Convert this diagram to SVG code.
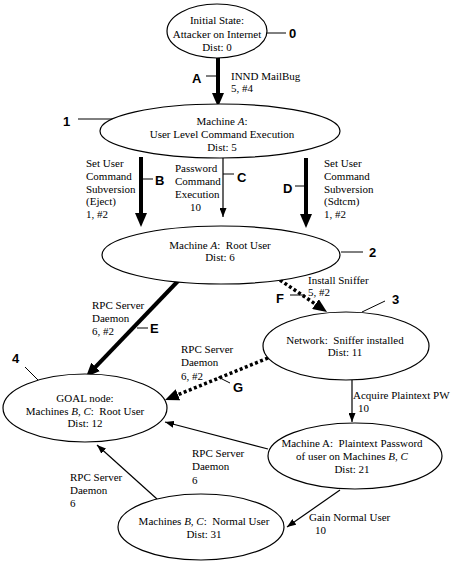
<svg xmlns="http://www.w3.org/2000/svg" width="474" height="567" viewBox="0 0 474 567">
<style>
.n{fill:#fff;stroke:#000;stroke-width:1.2}
.t{font-family:"Liberation Serif","Times New Roman",serif;font-size:11px;fill:#000}
.c{text-anchor:middle}
.b{font-family:"Liberation Sans",Arial,sans-serif;font-size:13px;font-weight:bold;fill:#000}
.thick{stroke:#000;stroke-width:4;fill:none}
.thin{stroke:#000;stroke-width:1.2;fill:none}
.dot{stroke:#000;stroke-width:3.5;fill:none;stroke-dasharray:3 2.5}
.tick{stroke:#000;stroke-width:1;fill:none}
</style>
<defs>
<marker id="big" markerUnits="userSpaceOnUse" markerWidth="14" markerHeight="12" refX="6" refY="6" orient="auto">
<path d="M0,0 L14,6 L0,12 z" fill="#000"/>
</marker>
<marker id="small" markerUnits="userSpaceOnUse" markerWidth="9" markerHeight="7" refX="9" refY="3.5" orient="auto">
<path d="M0,0 L9,3.5 L0,7 z" fill="#000"/>
</marker>
</defs>
<rect width="474" height="567" fill="#fff"/>

<g id="connectors">
<line class="thick" x1="218" y1="58" x2="218" y2="99" marker-end="url(#big)"/>
<line class="thick" x1="141" y1="157" x2="141" y2="219" marker-end="url(#big)"/>
<line class="thin" x1="223" y1="158" x2="223" y2="217" marker-end="url(#small)"/>
<line class="thick" x1="306" y1="158" x2="306" y2="220" marker-end="url(#big)"/>
<line class="thick" x1="179" y1="280" x2="91.5" y2="371.2" marker-end="url(#big)"/>
<line class="dot" x1="280" y1="280" x2="320.4" y2="307.5" marker-end="url(#big)"/>
<line class="dot" x1="268" y1="358" x2="172.4" y2="397" marker-end="url(#big)"/>
<line class="thin" x1="352" y1="380" x2="352" y2="422" marker-end="url(#small)"/>
<line class="thin" x1="268" y1="449" x2="165" y2="422" marker-end="url(#small)"/>
<line class="thin" x1="340" y1="490" x2="287" y2="527" marker-end="url(#small)"/>
<line class="thin" x1="157" y1="499" x2="97" y2="445" marker-end="url(#small)"/>
<!-- label ticks -->
<line class="tick" x1="267" y1="33" x2="286" y2="33"/>
<line class="tick" x1="206" y1="76" x2="216" y2="76"/>
<line class="tick" x1="78" y1="119" x2="117" y2="119"/>
<line class="tick" x1="143" y1="179" x2="153" y2="179"/>
<line class="tick" x1="223" y1="174" x2="234" y2="174"/>
<line class="tick" x1="295" y1="186" x2="305" y2="186"/>
<line class="tick" x1="341" y1="252" x2="363" y2="252"/>
<line class="tick" x1="137" y1="328" x2="148" y2="328"/>
<line class="tick" x1="290" y1="295" x2="305" y2="295"/>
<line class="tick" x1="362" y1="312" x2="385" y2="301"/>
<line class="tick" x1="25" y1="367" x2="40" y2="382"/>
<line class="tick" x1="218" y1="377" x2="230" y2="383"/>
</g>

<g id="edge-labels">
<text class="b" x="192" y="83">A</text>
<text class="t" x="231" y="80">INND MailBug</text>
<text class="t" x="231" y="92">5, #4</text>
<text class="t" x="86" y="167">Set User</text>
<text class="t" x="86" y="180">Command</text>
<text class="t" x="86" y="193">Subversion</text>
<text class="t" x="86" y="205">(Eject)</text>
<text class="t" x="86" y="218">1, #2</text>
<text class="b" x="155" y="185">B</text>
<text class="t" x="175" y="172">Password</text>
<text class="t" x="175" y="185">Command</text>
<text class="t" x="175" y="198">Execution</text>
<text class="t" x="190" y="211">10</text>
<text class="b" x="237" y="182">C</text>
<text class="b" x="283" y="193">D</text>
<text class="t" x="324" y="167">Set User</text>
<text class="t" x="324" y="180">Command</text>
<text class="t" x="324" y="193">Subversion</text>
<text class="t" x="324" y="205">(Sdtcm)</text>
<text class="t" x="324" y="218">1, #2</text>
<text class="t" x="92" y="309">RPC Server</text>
<text class="t" x="92" y="322">Daemon</text>
<text class="t" x="92" y="335">6, #2</text>
<text class="b" x="150" y="333">E</text>
<text class="t" x="308" y="284">Install Sniffer</text>
<text class="t" x="308" y="296">5, #2</text>
<text class="b" x="276" y="303">F</text>
<text class="t" x="181" y="353">RPC Server</text>
<text class="t" x="181" y="366">Daemon</text>
<text class="t" x="181" y="380">6, #2</text>
<text class="b" x="233" y="392">G</text>
<text class="t" x="353" y="399">Acquire Plaintext PW</text>
<text class="t" x="358" y="412">10</text>
<text class="t" x="192" y="457">RPC Server</text>
<text class="t" x="192" y="470">Daemon</text>
<text class="t" x="192" y="484">6</text>
<text class="t" x="309" y="521">Gain Normal User</text>
<text class="t" x="315" y="534">10</text>
<text class="t" x="70" y="481">RPC Server</text>
<text class="t" x="70" y="494">Daemon</text>
<text class="t" x="70" y="507">6</text>
</g>

<g id="node0">
<ellipse class="n" cx="217" cy="31" rx="50" ry="27"/>
<text class="t c" x="217" y="24">Initial State:</text>
<text class="t c" x="217" y="38">Attacker on Internet</text>
<text class="t c" x="217" y="51">Dist: 0</text>
<text class="b" x="289" y="38">0</text>
</g>

<g id="node1">
<ellipse class="n" cx="220" cy="131" rx="120" ry="27"/>
<text class="t c" x="222" y="125">Machine <tspan font-style="italic">A</tspan>:</text>
<text class="t c" x="222" y="138">User Level Command Execution</text>
<text class="t c" x="222" y="151">Dist: 5</text>
<text class="b" x="63" y="126">1</text>
</g>

<g id="node2">
<ellipse class="n" cx="221" cy="255" rx="119" ry="29"/>
<text class="t c" x="220" y="249" xml:space="preserve">Machine <tspan font-style="italic">A</tspan>:  Root User</text>
<text class="t c" x="220" y="261">Dist: 6</text>
<text class="b" x="369" y="257">2</text>
</g>

<g id="node3">
<ellipse class="n" cx="346" cy="346" rx="83" ry="34"/>
<text class="t c" x="345" y="344" xml:space="preserve">Network:  Sniffer installed</text>
<text class="t c" x="345" y="356">Dist: 11</text>
<text class="b" x="392" y="304">3</text>
</g>

<g id="node4">
<ellipse class="n" cx="85" cy="408" rx="82" ry="34"/>
<text class="t c" x="85" y="402">GOAL node:</text>
<text class="t c" x="85" y="415" xml:space="preserve">Machines <tspan font-style="italic">B, C</tspan>:  Root User</text>
<text class="t c" x="85" y="427">Dist: 12</text>
<text class="b" x="12" y="363">4</text>
</g>

<g id="node5">
<ellipse class="n" cx="355" cy="456" rx="87" ry="33"/>
<text class="t c" x="352" y="447" xml:space="preserve">Machine A:  Plaintext Password</text>
<text class="t c" x="352" y="460">of user on Machines <tspan font-style="italic">B, C</tspan></text>
<text class="t c" x="352" y="473">Dist: 21</text>
</g>

<g id="node6">
<ellipse class="n" cx="201" cy="527" rx="83" ry="33"/>
<text class="t c" x="204" y="525" xml:space="preserve">Machines <tspan font-style="italic">B, C</tspan>:  Normal User</text>
<text class="t c" x="204" y="538">Dist: 31</text>
</g>
</svg>
